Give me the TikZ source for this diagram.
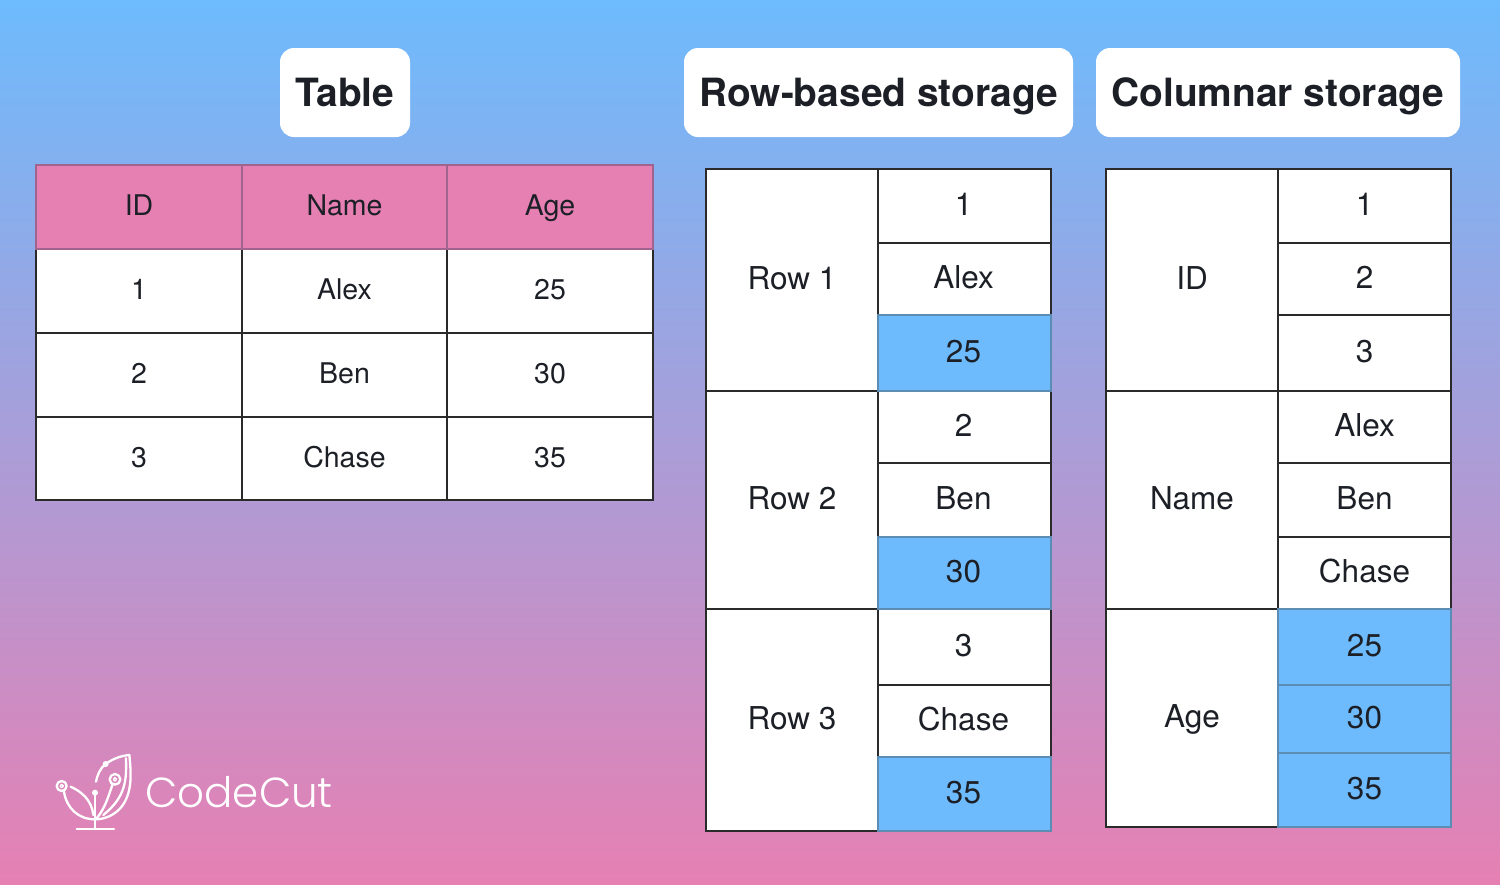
\documentclass[tikz,border=0pt]{standalone}
\usepackage{fontspec}
\setmainfont{TeX Gyre Heros}
\newfontfamily\logofont[UprightFont={* Light}]{Poppins}
\definecolor{bgtop}{HTML}{6DBBFD}
\definecolor{bgbot}{HTML}{E680B3}
\definecolor{headpink}{HTML}{E680B3}
\definecolor{headline}{HTML}{A0648F}
\definecolor{cellblue}{HTML}{6DBBFD}
\definecolor{blueline}{HTML}{5A8CB4}
\definecolor{inkline}{HTML}{2A2A2A}
\definecolor{inktext}{HTML}{1C2026}
\tikzset{
  x=1pt,y=-1pt,
  cellbase/.style={draw=inkline,fill=white,line width=1.35pt,inner sep=0pt,outer sep=0pt,
    font=\fontsize{28.5}{30}\selectfont,text=inktext,text height=20pt,text depth=3pt,anchor=center},
  headcell/.style={cellbase,fill=headpink,draw=headline},
  bluecell/.style={cellbase,fill=cellblue,draw=blueline},
  bigcell/.style={font=\fontsize{31.5}{33}\selectfont,text height=22pt,text depth=3pt},
  titlebox/.style={fill=white,rounded corners=14pt,inner sep=0pt,outer sep=0pt,
    font=\fontsize{38.9}{41}\bfseries\selectfont,text=inktext,text height=27pt,text depth=0pt,anchor=center},
  logoline/.style={draw=white,line width=2.3pt,line cap=round,line join=round},
}
\newcommand{\tcell}[7][cellbase]{%
  \pgfmathsetmacro{\cw}{#5-#3}\pgfmathsetmacro{\ch}{#6-#4}%
  \node[#1,minimum width=\cw pt,minimum height=\ch pt] (#2) at ({(#3+#5)/2},{(#4+#6)/2}) {#7};}
\begin{document}
\begin{tikzpicture}
\useasboundingbox (0,0) rectangle (1500,884);
\shade[top color=bgtop,bottom color=bgbot] (0,0) rectangle (1500,884);
% titles
\tcell[titlebox]{ttable}{280}{48}{410}{137}{Table}
\tcell[titlebox]{trow}{684}{48}{1073}{137}{Row-based storage}
\tcell[titlebox]{tcol}{1096}{48}{1460}{137}{Columnar storage}
% table
\tcell{a1}{36}{249}{242}{333}{1}
\tcell{a2}{242}{249}{447}{333}{Alex}
\tcell{a3}{447}{249}{653}{333}{25}
\tcell{b1}{36}{333}{242}{417}{2}
\tcell{b2}{242}{333}{447}{417}{Ben}
\tcell{b3}{447}{333}{653}{417}{30}
\tcell{c1}{36}{417}{242}{500}{3}
\tcell{c2}{242}{417}{447}{500}{Chase}
\tcell{c3}{447}{417}{653}{500}{35}
\tcell[headcell]{h1}{36}{165}{242}{249}{ID}
\tcell[headcell]{h2}{242}{165}{447}{249}{Name}
\tcell[headcell]{h3}{447}{165}{653}{249}{Age}
% row-based
\tcell[cellbase,bigcell]{r1}{706}{169}{878}{391}{Row 1}
\tcell[cellbase,bigcell]{r2}{706}{391}{878}{609}{Row 2}
\tcell[cellbase,bigcell]{r3}{706}{609}{878}{831}{Row 3}
\tcell[cellbase,bigcell]{r1a}{878}{169}{1051}{243}{\hspace{-2pt}1}
\tcell[cellbase,bigcell]{r1b}{878}{243}{1051}{315}{\hspace{-2pt}Alex}
\tcell[cellbase,bigcell]{r2a}{878}{391}{1051}{463}{\hspace{-2pt}2}
\tcell[cellbase,bigcell]{r2b}{878}{463}{1051}{537}{\hspace{-2pt}Ben}
\tcell[cellbase,bigcell]{r3a}{878}{609}{1051}{685}{\hspace{-2pt}3}
\tcell[cellbase,bigcell]{r3b}{878}{685}{1051}{757}{\hspace{-2pt}Chase}
\tcell[bluecell,bigcell]{r1c}{878}{315}{1051}{391}{\hspace{-2pt}25}
\tcell[bluecell,bigcell]{r2c}{878}{537}{1051}{609}{\hspace{-2pt}30}
\tcell[bluecell,bigcell]{r3c}{878}{757}{1051}{831}{\hspace{-2pt}35}
% columnar
\tcell[cellbase,bigcell]{s1}{1106}{169}{1278}{391}{ID}
\tcell[cellbase,bigcell]{s2}{1106}{391}{1278}{609}{Name}
\tcell[cellbase,bigcell]{s3}{1106}{609}{1278}{827}{Age}
\tcell[cellbase,bigcell]{s1a}{1278}{169}{1451}{243}{1}
\tcell[cellbase,bigcell]{s1b}{1278}{243}{1451}{315}{2}
\tcell[cellbase,bigcell]{s1c}{1278}{315}{1451}{391}{3}
\tcell[cellbase,bigcell]{s2a}{1278}{391}{1451}{463}{Alex}
\tcell[cellbase,bigcell]{s2b}{1278}{463}{1451}{537}{Ben}
\tcell[cellbase,bigcell]{s2c}{1278}{537}{1451}{609}{Chase}
\tcell[bluecell,bigcell]{s3a}{1278}{609}{1451}{685}{25}
\tcell[bluecell,bigcell]{s3b}{1278}{685}{1451}{753}{30}
\tcell[bluecell,bigcell]{s3c}{1278}{753}{1451}{827}{35}
% logo
\begin{scope}[shift={(40,740)},x=0.3333pt,y=-0.3333pt]
  \draw[logoline] (197,72) .. controls (220,55) and (245,47) .. (268,45)
     .. controls (275,110) and (275,160) .. (245,200) .. controls (225,225) and (195,238) .. (165,238);
  \draw[logoline] (258,55) .. controls (260,120) and (258,170) .. (190,225);
  \draw[logoline] (197,72) .. controls (180,85) and (172,105) .. (168,125);
  \draw[logoline] (165,158) -- (165,265);
  \draw[logoline] (110,268) -- (222,268);
  \draw[logoline] (72,155) .. controls (80,205) and (115,238) .. (165,238);
  \draw[logoline] (92,140) .. controls (125,155) and (155,180) .. (160,225);
  \draw[logoline] (218,132) .. controls (205,170) and (195,205) .. (170,235);
  \draw[logoline] (65,138) circle (15);
  \draw[logoline,line width=1.4pt] (65,138) circle (5);
  \draw[logoline] (225,118) circle (16);
  \draw[logoline,line width=1.4pt] (225,118) circle (5);
  \fill[white] (197,72) circle (9);
  \fill[white] (165,158) circle (9);
\end{scope}
\node[inner sep=0pt,text=white,anchor=base west,font=\logofont\fontsize{42}{44}\selectfont] (logo) at (145,807) {CodeCut};
\end{tikzpicture}
\end{document}
